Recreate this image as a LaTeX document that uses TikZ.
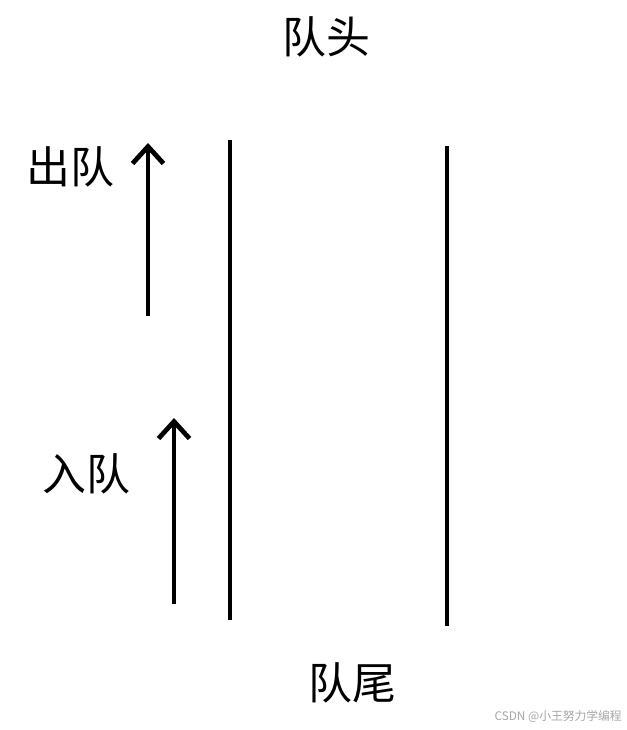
\documentclass[tikz,border=0pt]{standalone}
\usepackage{fontspec}
\newfontfamily\cjk{Noto Sans CJK SC}
\usetikzlibrary{arrows.meta}
\tikzstyle{wall} = [draw, line width=2.7pt]
\tikzstyle{flow} = [draw, line width=2.7pt, -{Straight Barb[length=0.34cm, width=0.62cm, line width=2.7pt]}]
\tikzstyle{label} = [font=\cjk\fontsize{25}{30}\selectfont, inner sep=0pt]
\tikzstyle{watermark} = [font=\cjk\fontsize{6.7}{8}\selectfont, text=black!35, inner sep=0pt]

\begin{document}
\begin{tikzpicture}[x=0.02cm, y=-0.02cm]
	\useasboundingbox (0,0) rectangle (626,730);
	% Place nodes
	\node [label] (head) at (326,37) {队头};
	\node [label] (tail) at (352,683) {队尾};
	\node [label] (deq) at (70,167) {出队};
	\node [label] (enq) at (86,474) {入队};
	\node [watermark, anchor=east] (wm) at (622,717) {CSDN @小王努力学编程};
	%
	\coordinate (lt) at (230,140);
	\coordinate (lb) at (230,620);
	\coordinate (rt) at (447,146);
	\coordinate (rb) at (447,626);
	\path [wall] (lt) -- (lb);
	\path [wall] (rt) -- (rb);
	%
	\coordinate (deqs) at (148,316);
	\coordinate (deqe) at (148,143);
	\coordinate (enqs) at (174,604);
	\coordinate (enqe) at (174,418);
	\path [flow] (deqs) -- (deqe);
	\path [flow] (enqs) -- (enqe);
\end{tikzpicture}
\end{document}
